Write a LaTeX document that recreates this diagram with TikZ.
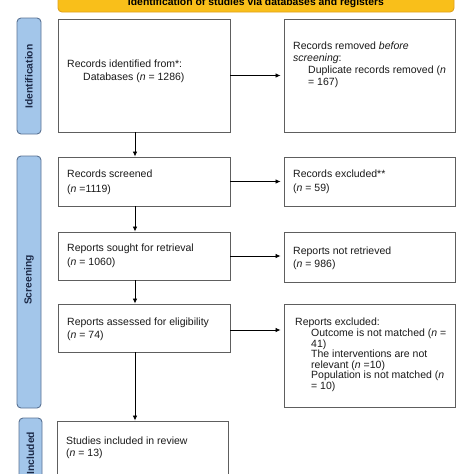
\documentclass[tikz,border=0pt]{standalone}
\usepackage{fontspec}
\setmainfont{Liberation Sans}
\usetikzlibrary{arrows.meta}
\definecolor{bannerfill}{HTML}{F9BF1A}
\definecolor{bannerdraw}{HTML}{E0A21C}
\definecolor{barfill}{HTML}{A3C6EA}
\definecolor{bardraw}{HTML}{5A7394}
\definecolor{bartext}{HTML}{1C2A48}
\definecolor{boxdraw}{HTML}{5E5E5E}
\definecolor{txt}{HTML}{1A1A1A}
\begin{document}
\begin{tikzpicture}[x=1pt,y=-1pt,
  box/.style={draw=boxdraw, line width=0.9pt, rectangle, inner sep=0pt},
  boxtext/.style={anchor=north west, inner sep=0pt, align=left, text=txt},
  bar/.style={draw=bardraw, fill=barfill, line width=0.9pt, rounded corners=4pt},
  bartxt/.style={rotate=90, text=bartext, font=\fontsize{10.3}{12}\selectfont\bfseries, inner sep=0pt},
  arr/.style={draw=black, line width=0.8pt, -{Latex[length=5pt,width=4.5pt]}}
]
\useasboundingbox (0,0) rectangle (474,474);
\clip (0,0) rectangle (474,474);
\fill[white] (0,0) rectangle (474,474);

% banner
\draw[draw=bannerdraw, fill=bannerfill, line width=0.9pt, rounded corners=4pt] (58,-25) rectangle (454,12);
\node[anchor=base, inner sep=0pt, font=\fontsize{10.4}{12}\selectfont\bfseries, text=black] (banner) at (256,5) {Identification of studies via databases and registers};

% side bars
\draw[bar] (17,18) rectangle (41,134);
\node[bartxt] (lid) at (29,76.5) {Identification};
\draw[bar] (17,156) rectangle (41,408);
\node[bartxt] (lsc) at (29,280) {Screening};
\draw[bar] (19,418) rectangle (42,500);
\node[bartxt] (lin) at (30.5,453) {Included};

% boxes
\node[box, minimum width=172pt, minimum height=113pt] (b1) at (144,75.5) {};
\node[box, minimum width=171pt, minimum height=113pt] (b2) at (369.5,75.5) {};
\node[box, minimum width=172pt, minimum height=49pt] (b3) at (144,181.5) {};
\node[box, minimum width=171pt, minimum height=49pt] (b4) at (369.5,181.5) {};
\node[box, minimum width=172pt, minimum height=48pt] (b5) at (144,256) {};
\node[box, minimum width=171pt, minimum height=50pt] (b6) at (369.5,257) {};
\node[box, minimum width=172pt, minimum height=48pt] (b7) at (144,328) {};
\node[box, minimum width=171pt, minimum height=103pt] (b8) at (369.5,355.5) {};
\node[box, minimum width=171pt, minimum height=79pt] (b9) at (142.5,460.5) {};

% texts
\node[boxtext, font=\fontsize{10.5}{12.7}\selectfont] (t1) at (67,60)
  {Records identified from*:\\\hspace{16pt}Databases (\textit{n} = 1286)};
\node[boxtext, font=\fontsize{10.5}{12}\selectfont] (t2) at (293,42)
  {Records removed \textit{before}\\\textit{screening}:\\\hspace{15pt}Duplicate records removed (\textit{n}\\\hspace{15pt}= 167)};
\node[boxtext, font=\fontsize{10.5}{14.7}\selectfont] (t3) at (67,170)
  {Records screened\\(\textit{n} =1119)};
\node[boxtext, font=\fontsize{10.5}{14}\selectfont] (t4) at (293,170)
  {Records excluded**\\(\textit{n} = 59)};
\node[boxtext, font=\fontsize{10.5}{14}\selectfont] (t5) at (67,244)
  {Reports sought for retrieval\\(\textit{n} = 1060)};
\node[boxtext, font=\fontsize{10.5}{13}\selectfont] (t6) at (293,247)
  {Reports not retrieved\\(\textit{n} = 986)};
\node[boxtext, font=\fontsize{10.5}{12.7}\selectfont] (t7) at (67,318)
  {Reports assessed for eligibility\\(\textit{n} = 74)};
\node[boxtext, font=\fontsize{10.5}{10.6}\selectfont] (t8) at (295,318)
  {Reports excluded:\\
   \hspace{16pt}Outcome is not matched (\textit{n} =\\
   \hspace{16pt}41)\\
   \hspace{16pt}The interventions are not\\
   \hspace{16pt}relevant (\textit{n} =10)\\
   \hspace{16pt}Population is not matched (\textit{n}\\
   \hspace{16pt}= 10)};
\node[boxtext, font=\fontsize{10.5}{12}\selectfont] (t9) at (66,437)
  {Studies included in review\\(\textit{n} = 13)};

% arrows
\coordinate (ax) at (135,0);
\draw[arr] (b1.south -| ax) -- (b3.north -| ax);
\draw[arr] (b3.south -| ax) -- (b5.north -| ax);
\draw[arr] (b5.south -| ax) -- (b7.north -| ax);
\draw[arr] (b7.south -| ax) -- (b9.north -| ax);
\draw[arr, shorten >=3pt] (b1.east) -- (b1.east -| b2.west);
\draw[arr, shorten >=3pt] (b3.east) -- (b3.east -| b4.west);
\draw[arr, shorten >=3pt] (b5.east) -- (b5.east -| b6.west);
\coordinate (a7) at ([yshift=-2pt]b7.east);
\draw[arr, shorten >=3pt] (a7) -- (a7 -| b8.west);
\end{tikzpicture}
\end{document}
